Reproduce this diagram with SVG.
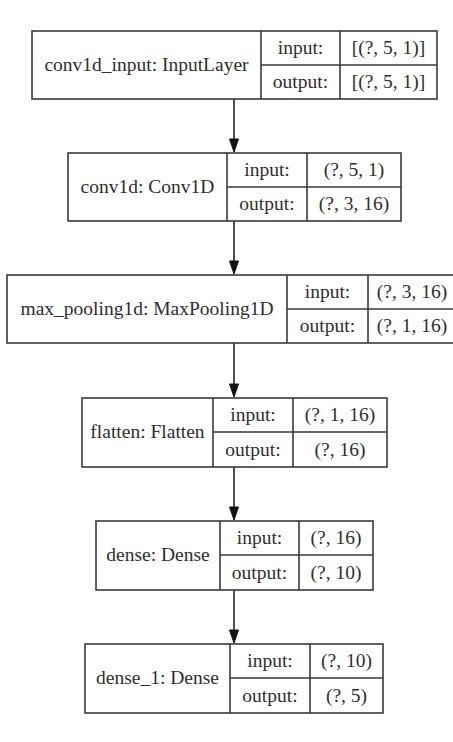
<svg xmlns="http://www.w3.org/2000/svg" width="453" height="742" viewBox="0 0 453 742">
<style>
.box{fill:#fff;stroke:#3a3a3a;stroke-width:1.6}
.ln{stroke:#3a3a3a;stroke-width:1.6;fill:none}
text{font-family:"Liberation Serif","Times New Roman",serif;font-size:19.5px;fill:#2e2e2e;text-anchor:middle}
.edge{stroke:#222;stroke-width:1.6;fill:none}
.head{fill:#111;stroke:#111;stroke-width:1}
</style>
<rect width="453" height="742" fill="#fff"/>
<g id="connectors">
<line class="edge" x1="234" y1="99" x2="234" y2="139"/>
<polygon class="head" points="229.5,139 238.5,139 234,152"/>
<line class="edge" x1="234" y1="221" x2="234" y2="261"/>
<polygon class="head" points="229.5,261 238.5,261 234,274"/>
<line class="edge" x1="234" y1="343" x2="234" y2="384"/>
<polygon class="head" points="229.5,384 238.5,384 234,397"/>
<line class="edge" x1="234" y1="467" x2="234" y2="507"/>
<polygon class="head" points="229.5,507 238.5,507 234,520"/>
<line class="edge" x1="234" y1="590" x2="234" y2="630"/>
<polygon class="head" points="229.5,630 238.5,630 234,643"/>
</g>
<g id="conv1d_input">
<rect class="box" x="32" y="31" width="405" height="68"/>
<path class="ln" d="M261 31V99M340 31V99M261 65H437"/>
<text x="146.5" y="71">conv1d_input: InputLayer</text>
<text x="300.5" y="54">input:</text>
<text x="300.5" y="88">output:</text>
<text x="388.5" y="54">[(?, 5, 1)]</text>
<text x="388.5" y="88">[(?, 5, 1)]</text>
</g>
<g id="conv1d">
<rect class="box" x="68" y="153" width="333" height="68"/>
<path class="ln" d="M227 153V221M307 153V221M227 187H401"/>
<text x="147.5" y="193">conv1d: Conv1D</text>
<text x="267" y="176">input:</text>
<text x="267" y="210">output:</text>
<text x="354" y="176">(?, 5, 1)</text>
<text x="354" y="210">(?, 3, 16)</text>
</g>
<g id="max_pooling1d">
<rect class="box" x="7" y="275" width="452" height="68"/>
<path class="ln" d="M287 275V343M368 275V343M287 309H459"/>
<text x="147" y="315">max_pooling1d: MaxPooling1D</text>
<text x="327.5" y="298">input:</text>
<text x="327.5" y="332">output:</text>
<text x="412" y="298">(?, 3, 16)</text>
<text x="412" y="332">(?, 1, 16)</text>
</g>
<g id="flatten">
<rect class="box" x="82" y="398" width="305" height="69"/>
<path class="ln" d="M213 398V467M293 398V467M213 432H387"/>
<text x="147.5" y="438">flatten: Flatten</text>
<text x="253" y="421">input:</text>
<text x="253" y="456">output:</text>
<text x="340" y="421">(?, 1, 16)</text>
<text x="340" y="456">(?, 16)</text>
</g>
<g id="dense">
<rect class="box" x="96" y="521" width="277" height="69"/>
<path class="ln" d="M220 521V590M299 521V590M220 555H373"/>
<text x="158" y="561">dense: Dense</text>
<text x="259.5" y="544">input:</text>
<text x="259.5" y="579">output:</text>
<text x="336" y="544">(?, 16)</text>
<text x="336" y="579">(?, 10)</text>
</g>
<g id="dense_1">
<rect class="box" x="85" y="644" width="298" height="69"/>
<path class="ln" d="M230 644V713M310 644V713M230 678H383"/>
<text x="157.5" y="684">dense_1: Dense</text>
<text x="270" y="667">input:</text>
<text x="270" y="702">output:</text>
<text x="346.5" y="667">(?, 10)</text>
<text x="346.5" y="702">(?, 5)</text>
</g>
</svg>
